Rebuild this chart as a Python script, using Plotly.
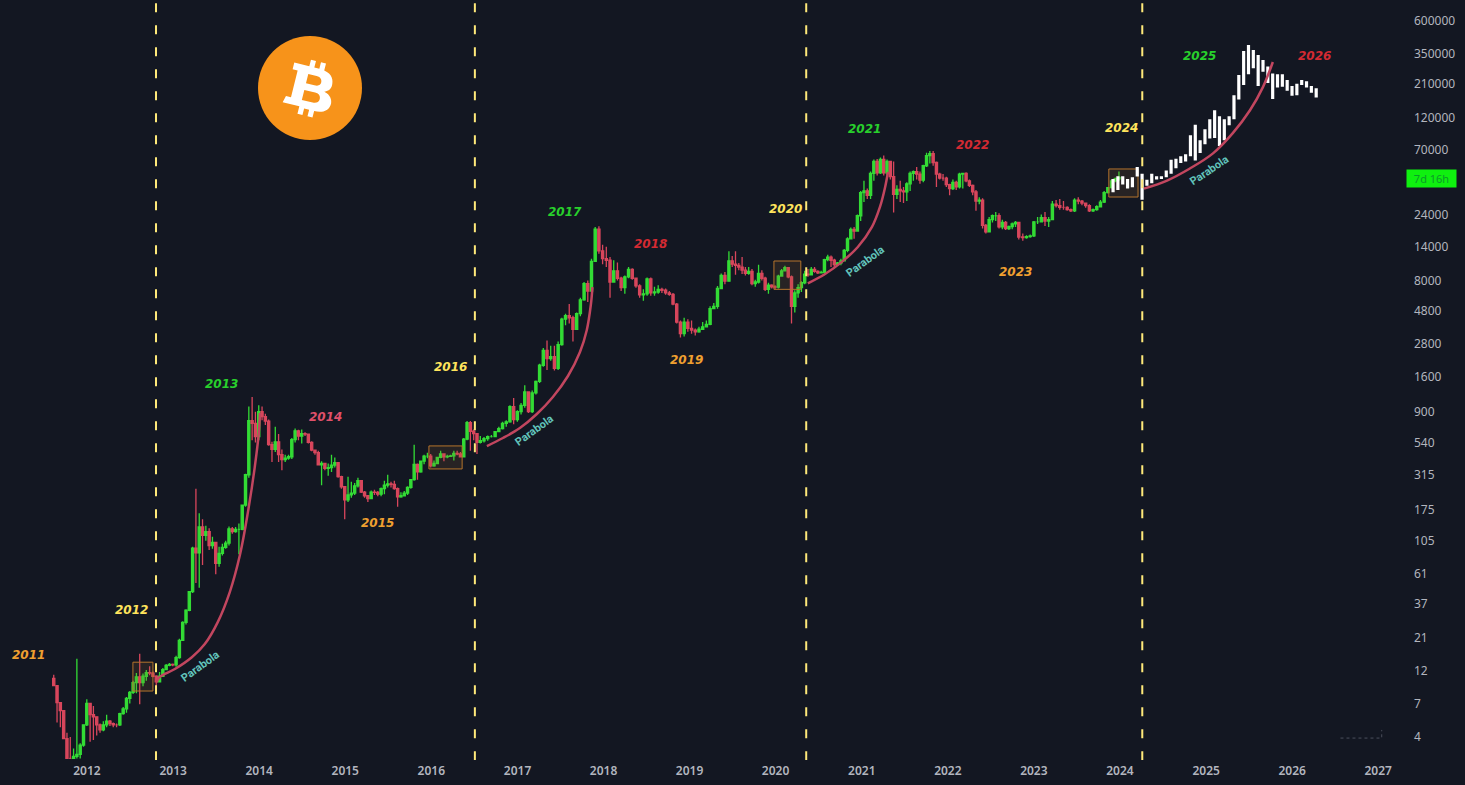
import math
import pandas as pd
import plotly.graph_objects as go

BG = "#131722"
UP = "#33dc35"
DOWN = "#d8465c"

year_ticks = list(range(2012, 2028))
price_ticks = [600000, 350000, 210000, 120000, 70000, 24000, 14000, 8000, 4800, 2800,
               1600, 900, 540, 315, 175, 105, 61, 37, 21, 12, 7, 4]

first_open = 10.6

candles_2011_2016 = [
 (9.4,11.3,9.4),(7.1,8.5,5.1),(6.2,6.3,4.7),(3.9,6.2,3.9),(2.8,4.3,2.8),(2.8,4.0,2.8),(2.9,3.3,2.8),(3.0,14.7,2.8),
 (3.5,3.6,2.8),(4.9,4.9,3.4),(7.0,7.5,4.8),(5.8,6.7,3.7),(5.6,6.7,3.8),(4.9,5.6,4.1),(4.5,5.0,4.3),(4.9,5.2,4.4),
 (5.2,5.8,4.7),(5.0,5.3,4.8),(4.9,5.1,4.7),(4.9,5.0,4.7),(5.9,6.0,4.8),(6.4,6.6,5.8),(7.6,7.8,6.0),(8.4,8.6,7.0),
 (9.9,10.2,8.2),(10.9,11.6,8.3),(9.9,16,6.9),(11.0,11.5,9.3),(11.7,12.2,10.2),(11.6,13,11.2),(11.0,11.9,10.8),
 (10.0,11.2,9.3),(11.0,11.8,10),(12.3,12.6,11),(13.2,13.5,12.2),(13.4,13.7,13),(13.3,13.6,13),(15,15.5,12.9),
 (20,20.5,14.7),(27,27.5,20),(33,33.5,26),(45,45.5,32.5),(93,95,44),(86,250,52),(132,166,48),(115,150,70),
 (122,135,105),(97,129,90),(102,112,92),(72,103,60),(85,95,68),(94,100,82),(101,105,92),(128,133,97),(122,132,118),
 (127,132,120),(127,140,84),(190,192,125),(315,320,185),(775,980,300),(740,1150,560),(595,900,540),(900,1000,560),
 (830,980,780),(770,870,720),(520,790,510),(480,545,390),(545,700,460),(440,620,390),(405,480,340),(415,440,390),
 (425,440,405),(565,580,410),(655,680,540),(600,665,560),(625,670,530),(620,640,600),(540,625,530),(475,550,465),
 (455,480,440),(372,470,370),(380,395,265),(350,385,340),(355,380,310),(370,440,330),(385,420,355),(305,390,300),
 (258,310,250),(207,260,150),(225,305,200),(232,280,215),(262,275,225),(285,300,255),(236,285,232),(222,240,215),
 (212,225,200),(236,242,210),(235,245,225),(228,240,220),(250,255,220),(265,285,228),(270,315,255),(268,280,255),
 (250,285,245),(218,255,185),(222,235,215),(232,240,220),(255,260,225),(290,292,250),(375,520,285),(330,380,290),
 (395,400,325),(430,440,375),(430,455,415),(365,445,355),(380,400,360),(420,425,378),(445,470,415),(425,450,395),
 (428,440,415),(432,440,425),(450,470,400),(445,470,435),(425,460,420),(570,580,420),(750,770,560),(650,770,470),
 (625,670,560),(540,630,445),
]

candles_2016_2019 = [
 (555,600,530),(575,590,540),(595,605,555),(595,610,585),(645,650,590),(680,700,640),(740,760,670),(760,780,700),
 (980,1000,750),(790,1130,730),(900,920,760),(1000,1040,860),(1250,1400,960),(900,1260,880),(1230,1280,880),
 (1490,1510,1200),(1950,2000,1450),(2500,2600,1900),(2180,2950,1800),(2250,2700,2100),(1850,2700,1790),
 (2750,2900,1800),(4200,4300,2700),(4450,4600,3800),(4300,5400,3900),(3550,4450,2900),(4600,4700,3500),
 (5800,6000,4400),(7600,7800,5700),(6700,8000,5600),(11000,11500,6600),(18800,19500,11000),(13100,19700,12500),
 (11500,14500,10500),(11200,14000,10000),(7800,11800,6000),(9400,11200,7700),(8300,10800,8000),(7100,8500,6700),
 (8500,8700,6400),(9600,10000,8300),(8300,9800,8100),(7300,8400,7100),(6300,7500,6000),(6400,6900,5700),
 (8200,8400,6200),(6500,8400,6200),(6600,7200,6200),(6900,7400,6400),(6800,7100,6500),(6500,7000,6300),
 (6350,6700,6200),(5400,6500,5300),(4000,5500,3900),(3300,4100,3100),(4000,4300,3150),(3600,4200,3400),
 (3500,4100,3300),(3400,3600,3200),(3550,3700,3350),(3700,4000,3500),(3850,4100,3650),(5000,5200,3800),
 (5200,5500,4950),(7000,7300,5000),(8700,9000,6900),(7900,9200,7500),
]

candles_2019_2022 = [
 (11100,13000,8000),(10500,12000,10000),(10300,13000,8800),(10000,10700,9500),(9500,11800,8900),(9000,10000,8700),
 (9300,10000,8800),(7600,9700,7400),(7800,8100,7200),(9000,10400,7600),(8300,9500,8000),(6900,8500,6700),
 (7400,7700,6400),(7200,7500,7000),(7150,7400,6900),(8600,8800,7000),(9400,9700,8500),(9900,10200,9300),
 (8500,10000,8300),(5200,8700,3900),(6500,6800,4700),(7100,7500,6000),(7700,7900,6600),(8900,9400,7500),
 (8800,9700,8500),(9600,10000,8700),(9300,10000,9100),(9100,9500,8900),(9150,9400,9000),(11300,11500,9000),
 (11800,12300,11000),(11200,12100,10000),(10400,11500,10000),(10700,10900,10200),(11100,11500,10300),
 (13200,13500,11000),(16000,16400,12800),(18700,19300,15800),(18200,19500,16000),(23500,24000,18500),
 (34500,35500,21500),(35500,42000,29500),(33000,37000,31000),(47500,49000,31000),(58000,60000,42000),
 (48000,60500,46000),(60000,62000,47000),(48000,64000,46000),(58000,60000,46000),(45000,58000,43000),
 (33500,58000,24800),(36500,39000,31000),(35500,42000,29500),(35000,38000,29000),(40000,41000,30000),
 (47500,49000,35500),(49000,50000,42000),(47000,53000,43000),(42500,49000,40000),(54000,55000,41000),
 (64000,67000,53000),(66000,69000,56000),(57000,69000,54000),(47000,58000,38000),(44000,48000,43000),
 (44000,47000,42000),(39500,45000,38000),(37000,40000,33000),(41000,43000,36000),(38000,42000,36000),
 (47000,48000,37000),(47500,48000,37000),(42000,48500,41000),(39000,43000,38000),(35000,39500,33000),
 (30000,36000,25500),(30500,32000,28500),(20000,31500,19000),(18000,20500,17500),(22000,23000,18000),
 (23500,24000,21000),(23500,25000,21500),(19500,24500,19000),(21000,22000,18800),(19000,21500,18500),
 (19600,20000,18500),(20500,21000,18800),(21000,21500,19500),(16500,21000,15800),
]

candles_2022_2023 = [
 (16300,17500,15500),(16600,17000,16000),(16800,17200,16300),(21200,21500,16500),(21200,23000,20500),
 (22800,24000,21000),(21500,25000,19800),(22000,23000,19500),(28500,30000,21800),(27800,30500,27000),
 (27000,31000,26000),(27000,30000,26000),(26000,27500,25500),(25500,26500,25000),(30500,31500,25000),
 (30000,32000,28500),(29000,30500,28000),(27800,29000,26800),(25500,28500,25000),(26000,26500,25000),
 (27300,28000,25500),(29500,30500,27000),(34500,35500,29000),(37500,38000,34000),(42000,43000,37000),
 (43500,44500,41000),(44500,49000,42000),
]

projection_high = [43400,45400,45400,43400,44600,52800,47200,42700,47200,45400,45400,49900,59600,60600,63200,65300,
 89700,107000,82500,99200,117000,136000,123000,117000,123000,175000,245000,365000,403000,371000,341000,314000,
 282000,251000,248000,248000,225000,204000,212000,225000,221000,204000,196000]
projection_low = [34700,36100,39500,37000,37700,45200,30700,38800,40300,43000,43400,44600,47200,51900,56500,58000,
 63200,59000,66700,77300,84900,85700,75000,82500,106000,117000,163000,207000,248000,274000,204000,258000,
 214000,164000,199000,201000,188000,173000,175000,207000,199000,182000,168000]

halving_dates = ["2012-10-20", "2016-07-04", "2020-05-10", "2024-04-05"]

parabola_years = [
 [2012.813,2012.848,2013.022,2013.22,2013.371,2013.522,2013.661,2013.778,2013.871,2013.952,2013.998,2014.01],
 [2016.647,2016.833,2017.031,2017.228,2017.414,2017.588,2017.728,2017.809,2017.856,2017.873],
 [2020.377,2020.575,2020.772,2020.958,2021.12,2021.214,2021.272,2021.306],
 [2024.28,2024.548,2024.815,2025.082,2025.314,2025.512,2025.663,2025.779],
]
parabola_prices = [
 [10,10.87,12.4,15.1,18.8,27.1,44.7,82.8,169,358,631,881],
 [508,581,686,866,1149,1631,2433,3509,5320,7170],
 [7620,8900,10900,13960,19500,27200,37300,48700],
 [36900,42200,51600,66400,93000,136000,200000,304000],
]

box_dates = [("2012-07-14","2012-10-07"),("2015-12-22","2016-05-11"),("2019-12-25","2020-04-17"),("2023-11-15","2024-03-18")]
box_prices = [(8.6,13.9),(347,509),(6900,11060),(32100,51200)]


def to_date(y):
    return (pd.Timestamp("2000-01-01") + pd.Timedelta(days=(y - 2000) * 365.25)).strftime("%Y-%m-%d")


eras = [
    (candles_2011_2016, "2011-08-13", "2016-07-13"),
    (candles_2016_2019, "2016-07-27", "2019-05-31"),
    (candles_2019_2022, "2019-06-17", "2022-10-29"),
    (candles_2022_2023, "2022-11-15", "2023-12-28"),
]
xs, opens, highs, lows, closes = [], [], [], [], []
prev = first_open
for rows, a, b in eras:
    xs += list(pd.date_range(a, b, periods=len(rows)))
    for c, h, l in rows:
        opens.append(prev)
        closes.append(c)
        highs.append(max(h, c, prev))
        lows.append(min(l, c, prev))
        prev = c

proj_x = pd.date_range("2023-12-03", "2026-04-13", periods=len(projection_high))

W, H = 1410, 760
def px(x): return x / W
def py(y): return 1 - y / H


# Bitcoin logo glyph as an SVG path in paper coordinates
def logo_point(x, y, cx=311, cy=88, s=0.86, deg=14):
    t = math.radians(deg)
    X = cx + s * (x * math.cos(t) - y * math.sin(t))
    Y = cy + s * (x * math.sin(t) + y * math.cos(t))
    return f"{px(X):.5f},{py(Y):.5f}"


def logo_path(cmds):
    out = []
    for c in cmds:
        out.append(c[0] + " ".join(logo_point(*p) for p in c[1:]))
    return " ".join(out)


logo_outline = [
    ("M", (-26, -24)), ("L", (-8, -24)), ("L", (-8, -32)), ("L", (-2, -32)), ("L", (-2, -24)), ("L", (4, -24)),
    ("L", (4, -32)), ("L", (10, -32)), ("L", (10, -23.5)),
    ("C", (20, -22), (23, -15), (23, -9)), ("C", (23, -4), (20, -1), (16, 0.5)),
    ("C", (24, 2), (27, 8), (27, 12)), ("C", (27, 22), (18, 25), (10, 25)),
    ("L", (10, 33)), ("L", (4, 33)), ("L", (4, 25)), ("L", (-2, 25)), ("L", (-2, 33)), ("L", (-8, 33)), ("L", (-8, 24)),
    ("L", (-28, 24)), ("L", (-26, 16)), ("L", (-20, 16)), ("L", (-20, -16)), ("L", (-26, -16)),
]
logo_upper = [("M", (-7, -15)), ("L", (3, -15)), ("C", (8, -15), (10, -12), (10, -9)),
              ("C", (10, -6), (8, -4), (3, -4)), ("L", (-7, -4))]
logo_lower = [("M", (-7, 4)), ("L", (6, 4)), ("C", (11, 4), (13, 7), (13, 10)),
              ("C", (13, 14), (10, 16), (6, 16)), ("L", (-7, 16))]
logo_d = " Z ".join(logo_path(p) for p in [logo_outline, logo_upper, logo_lower]) + " Z"

fig = go.Figure()

# orange consolidation boxes
for (d0, d1), (p0, p1) in zip(box_dates, box_prices):
    fig.add_trace(go.Scatter(x=[d0, d1, d1, d0, d0], y=[p0, p0, p1, p1, p0], mode="lines",
                             line=dict(color="#b5742c", width=1), fill="toself",
                             fillcolor="rgba(150,100,50,0.16)", hoverinfo="skip", showlegend=False))

fig.add_trace(go.Candlestick(
    x=xs, open=opens, high=highs, low=lows, close=closes, showlegend=False,
    increasing=dict(line=dict(color=UP, width=1.3), fillcolor=UP),
    decreasing=dict(line=dict(color=DOWN, width=1.3), fillcolor=DOWN),
))

fig.add_trace(go.Candlestick(
    x=proj_x, open=projection_low, high=projection_high, low=projection_low, close=projection_high,
    xaxis="x2", showlegend=False,
    increasing=dict(line=dict(color="#ffffff", width=0), fillcolor="#ffffff"),
    decreasing=dict(line=dict(color="#ffffff", width=0), fillcolor="#ffffff"),
))

for yrs, prices in zip(parabola_years, parabola_prices):
    fig.add_trace(go.Scatter(x=[to_date(v) for v in yrs], y=prices, mode="lines", xaxis="x2",
                             line=dict(color="#c2465f", width=2.5, shape="spline", smoothing=1),
                             hoverinfo="skip", showlegend=False))

for d in halving_dates:
    fig.add_trace(go.Scatter(x=[d, d], y=[2.72, 853000], mode="lines", xaxis="x2",
                             line=dict(color="#ffe97a", width=2, dash="9px,13px"),
                             hoverinfo="skip", showlegend=False))

# faint dotted corner mark
fig.add_trace(go.Scatter(x=["2026-07-25", "2027-01-16", "2027-01-16"], y=[3.93, 3.93, 4.5], mode="lines",
                         line=dict(color="#4b4f5c", width=1, dash="dot"), hoverinfo="skip", showlegend=False))

labels = [
    ("2011", 29, 655, "#f0a030"), ("2012", 131, 610, "#ffe45c"), ("2013", 221, 384, "#28d02c"),
    ("2014", 325, 417, "#e0506a"), ("2015", 377, 523, "#f0a030"), ("2016", 450, 367, "#ffe45c"),
    ("2017", 565, 212, "#28d02c"), ("2018", 650, 244, "#d42a32"), ("2019", 686, 360, "#f0a030"),
    ("2020", 785, 209, "#ffe45c"), ("2021", 864, 129, "#28d02c"), ("2022", 972, 145, "#d42a32"),
    ("2023", 1015, 272, "#f0a030"), ("2024", 1121, 128, "#ffe45c"), ("2025", 1199, 56, "#28d02c"),
    ("2026", 1314, 56, "#d42a32"),
]
annotations = [dict(text=f"<b><i>{t}</i></b>", xref="paper", yref="paper", x=px(x), y=py(y), showarrow=False,
                    font=dict(family="DejaVu Sans", size=12, color=c), xanchor="center", yanchor="middle")
               for t, x, y, c in labels]
for x, y, ang in [(200, 666, -36), (534, 430, -36), (865, 261, -36), (1209, 170, -34)]:
    annotations.append(dict(text="<b>Parabola</b>", xref="paper", yref="paper", x=px(x), y=py(y), showarrow=False,
                            textangle=ang, font=dict(family="Liberation Sans Narrow, Roboto", size=11, color="#62c4bc"),
                            xanchor="center", yanchor="middle"))
annotations.append(dict(text="7d 16h", xref="paper", yref="paper", x=px(1431), y=py(178.5), showarrow=False,
                        bgcolor="#0ff00f", font=dict(family="Noto Sans", size=11, color="#0c9a2a"),
                        width=49, height=17, borderpad=0, xanchor="center", yanchor="middle"))

xrange_ = ["2010-12-28", "2027-05-16"]
fig.update_layout(
    width=1465, height=785, autosize=False,
    paper_bgcolor=BG, plot_bgcolor=BG,
    margin=dict(l=0, r=55, t=0, b=25),
    showlegend=False, boxgap=0.06,
    xaxis=dict(type="date", range=xrange_, rangeslider=dict(visible=False), showgrid=False, zeroline=False,
               tickvals=[f"{y}-01-01" for y in year_ticks], ticktext=[str(y) for y in year_ticks],
               tickfont=dict(family="Noto Sans", size=12, color="#b2b5be", weight=600), ticklen=0, showline=False,
               ticklabelstandoff=2),
    xaxis2=dict(type="date", range=xrange_, overlaying="x", matches="x", visible=False,
                rangeslider=dict(visible=False)),
    yaxis=dict(type="log", side="right", range=[0.4358, 5.931], showgrid=False, zeroline=False,
               tickvals=price_ticks, ticktext=[str(v) for v in price_ticks],
               tickfont=dict(family="Noto Sans", size=12, color="#b2b5be"), ticklen=0, showline=False,
               ticklabelstandoff=3),
    annotations=annotations,
    shapes=[dict(type="circle", xref="paper", yref="paper", x0=px(258), x1=px(362), y0=py(140), y1=py(36),
                 fillcolor="#f7931a", line=dict(width=0), layer="below"),
            dict(type="path", xref="paper", yref="paper", path=logo_d, fillcolor="#ffffff", fillrule="evenodd",
                 line=dict(width=0), layer="above")],
)

fig.write_html("out.html", config=dict(displayModeBar=False),
               post_script="document.body.style.margin='0';document.body.style.overflow='hidden';document.body.style.background='#131722';")
